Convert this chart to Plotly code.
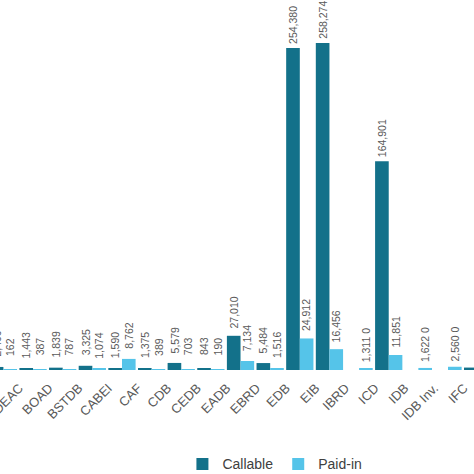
import plotly.graph_objects as go

categories = ["BDEAC", "BOAD", "BSTDB", "CABEI", "CAF", "CDB", "CEDB", "EADB",
              "EBRD", "EDB", "EIB", "IBRD", "ICD", "IDB", "IDB Inv.", "IFC", "IIB"]
callable_vals = [2400, 1443, 1839, 3325, 1590, 1375, 5579, 843,
                 27010, 5484, 254380, 258274, 0, 164901, 0, 0, 1922]
paidin_vals = [162, 387, 787, 1074, 8762, 389, 703, 190,
               7134, 1516, 24912, 16456, 1311, 11851, 1622, 2560, 1000]

C_CALL = "#13718a"
C_PAID = "#55c4e9"
TXT = "#595959"
FONT = "Arial, Liberation Sans, sans-serif"

fig = go.Figure()
fig.add_trace(go.Bar(name="Callable", x=categories, y=callable_vals,
                     marker=dict(color=C_CALL, line=dict(width=0))))
fig.add_trace(go.Bar(name="Paid-in", x=categories, y=paidin_vals,
                     marker=dict(color=C_PAID, line=dict(width=0))))

annotations = []
for cat, c, p in zip(categories, callable_vals, paidin_vals):
    if c == 0:
        annotations.append(dict(x=cat, y=p, text=f"{p:,} {c:,}", xshift=6.8))
    else:
        annotations.append(dict(x=cat, y=c, text=f"{c:,}", xshift=-6.8))
        annotations.append(dict(x=cat, y=p, text=f"{p:,}", xshift=6.8))
for a in annotations:
    a.update(xref="x", yref="y", textangle=-90, showarrow=False,
             xanchor="center", yanchor="middle", yshift=23,
             font=dict(family=FONT, size=10.5, color=TXT))

fig.update_layout(
    width=474, height=474,
    margin=dict(l=0, r=0, t=0, b=104, autoexpand=False),
    paper_bgcolor="white", plot_bgcolor="white",
    barmode="group", bargap=0.08, bargroupgap=0,
    font=dict(family=FONT, color=TXT),
    annotations=annotations,
    showlegend=True,
    legend=dict(orientation="h", x=0.58, xanchor="center", y=-0.255, yanchor="middle",
                font=dict(family=FONT, size=14, color="#404040")),
    xaxis=dict(type="category", range=[-0.115, 15.877], tickangle=-45,
               automargin=False, ticklabelshift=16, ticklabelstandoff=7,
               showgrid=False, showline=False, zeroline=False, ticks="",
               tickfont=dict(family=FONT, size=13, color=TXT)),
    yaxis=dict(range=[0, 292250], visible=False, showgrid=False, automargin=False),
)

fig.write_html("out.html")
